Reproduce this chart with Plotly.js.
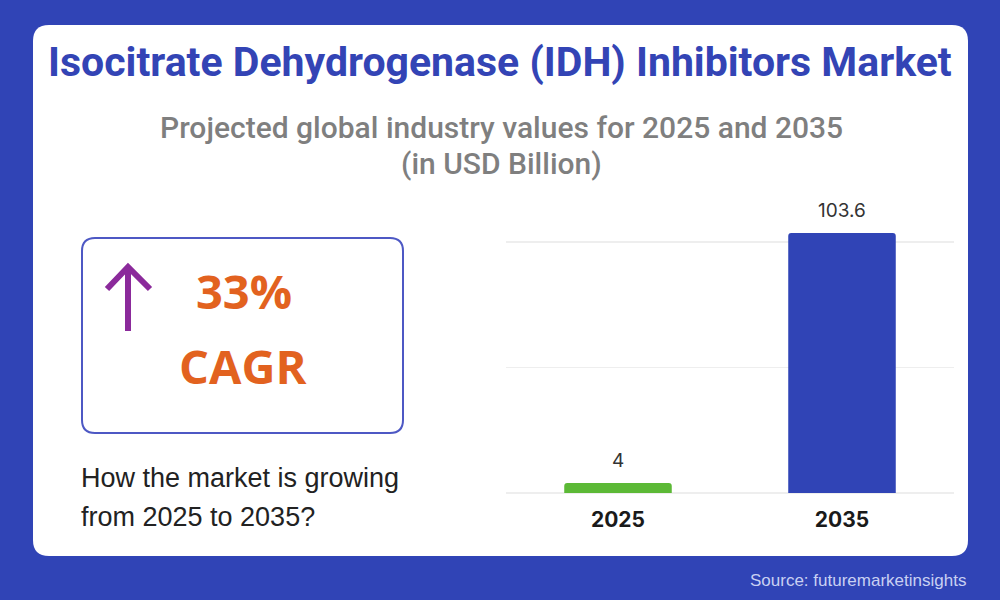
<!DOCTYPE html>
<html>
<head>
<meta charset="utf-8">
<script src="https://cdn.plot.ly/plotly-3.0.1.min.js"></script>
<style>
  html, body { margin: 0; padding: 0; background: #3044b6; }
  #chart { width: 1000px; height: 600px; }
</style>
</head>
<body>
<div id="chart"></div>
<script>
// Market values (USD Billion)
const years = ['2025', '2035'];
const values = [4, 103.6];
const barColors = ['#5cb936', '#3044b6'];
const gridValues = [0, 50, 100];

const cagrText = '33%';
const cagrLabel = 'CAGR';
const titleText = 'Isocitrate Dehydrogenase (IDH) Inhibitors Market';
const subtitleLines = ['Projected global industry values for 2025 and 2035', '(in USD Billion)'];
const questionLines = ['How the market is growing', 'from 2025 to 2035?'];
const sourceText = 'Source: futuremarketinsights';

// Page geometry in pixels, converted to paper coordinates for shapes/annotations
const W = 1000, H = 600;
const M = { l: 506, r: 46, t: 217, b: 107 };
const PW = W - M.l - M.r, PH = H - M.t - M.b;
const px = x => (x - M.l) / PW;
const py = y => (H - M.b - y) / PH;

function roundedRect(x0, y0, x1, y1, r) {
  const P = (x, y) => px(x) + ',' + py(y);
  return 'M' + P(x0 + r, y0) +
    ' L' + P(x1 - r, y0) + ' Q' + P(x1, y0) + ' ' + P(x1, y0 + r) +
    ' L' + P(x1, y1 - r) + ' Q' + P(x1, y1) + ' ' + P(x1 - r, y1) +
    ' L' + P(x0 + r, y1) + ' Q' + P(x0, y1) + ' ' + P(x0, y1 - r) +
    ' L' + P(x0, y0 + r) + ' Q' + P(x0, y0) + ' ' + P(x0 + r, y0) + ' Z';
}
function polyline(pts) {
  return pts.map((p, i) => (i ? 'L' : 'M') + px(p[0]) + ',' + py(p[1])).join(' ');
}

const shapes = [
  // white card
  { type: 'path', xref: 'paper', yref: 'paper', layer: 'below',
    path: roundedRect(33, 25, 968, 556, 16), fillcolor: '#ffffff', line: { width: 0 } },
  // CAGR box outline
  { type: 'path', xref: 'paper', yref: 'paper', layer: 'below',
    path: roundedRect(82, 238, 403, 433, 13), fillcolor: 'rgba(0,0,0,0)',
    line: { color: '#4d58c4', width: 2 } },
  // up arrow
  { type: 'path', xref: 'paper', yref: 'paper', layer: 'above',
    path: polyline([[128, 331], [128, 268]]), line: { color: '#8b2a9b', width: 6 } },
  { type: 'path', xref: 'paper', yref: 'paper', layer: 'above',
    path: polyline([[107, 289], [128, 267], [150, 289]]), line: { color: '#8b2a9b', width: 6 } }
];

const ann = (text, x, y, font, opts) => Object.assign({
  text, xref: 'paper', yref: 'paper', x: px(x), y: py(y),
  showarrow: false, font, xanchor: 'center', yanchor: 'middle'
}, opts || {});

const annotations = [
  ann(titleText, 500, 62, { size: 41, color: '#3344b5', family: 'Roboto, sans-serif', weight: 700 }),
  ann(subtitleLines[0], 501, 127, { size: 30, color: '#7f7f7f', family: 'Roboto, sans-serif', weight: 500 }),
  ann(subtitleLines[1], 501, 163, { size: 30, color: '#7f7f7f', family: 'Roboto, sans-serif', weight: 500 }),
  ann(cagrText, 244, 291, { size: 47, color: '#e2621f', family: 'Open Sans, sans-serif', weight: 700 }),
  ann(cagrLabel, 243, 366, { size: 47, color: '#e2621f', family: 'Open Sans, sans-serif', weight: 700 }),
  ann(questionLines[0], 79, 478, { size: 27, color: '#222222', family: 'Liberation Sans, Arial, sans-serif' }, { xanchor: 'left' }),
  ann(questionLines[1], 79, 517, { size: 27, color: '#222222', family: 'Liberation Sans, Arial, sans-serif' }, { xanchor: 'left' }),
  ann(sourceText, 968, 580, { size: 17, color: '#c9d0f2', family: 'Liberation Sans, Arial, sans-serif' }, { xanchor: 'right' })
];

// value labels above each bar (category axis: x is the category index)
years.forEach((yr, i) => {
  annotations.push({
    text: String(values[i]), x: i, y: values[i], xref: 'x', yref: 'y',
    showarrow: false, xanchor: 'center', yanchor: 'bottom', yshift: 9,
    font: { size: 19, color: '#333333', family: 'Inter, Roboto, sans-serif' }
  });
});

const trace = {
  type: 'bar',
  x: years,
  y: values,
  marker: { color: barColors },
  hoverinfo: 'none'
};

const layout = {
  width: W, height: H,
  margin: M,
  paper_bgcolor: '#3044b6',
  plot_bgcolor: 'rgba(0,0,0,0)',
  showlegend: false,
  bargap: 0.52,
  barcornerradius: 3,
  xaxis: {
    type: 'category',
    range: [-0.5, 1.5],
    showgrid: false, zeroline: false, showline: false, ticks: '',
    ticklabelstandoff: 12,
    tickfont: { size: 21, color: '#1a1a1a', family: 'Inter, Roboto, sans-serif', weight: 700 },
    fixedrange: true
  },
  yaxis: {
    range: [0, 110],
    tickvals: gridValues,
    showticklabels: false,
    gridcolor: '#eeeeee', gridwidth: 1.5,
    zeroline: true, zerolinecolor: '#eeeeee', zerolinewidth: 1.5,
    showline: false, ticks: '',
    fixedrange: true
  },
  shapes, annotations
};

Plotly.newPlot('chart', [trace], layout, { displayModeBar: false, staticPlot: true });
</script>
</body>
</html>
